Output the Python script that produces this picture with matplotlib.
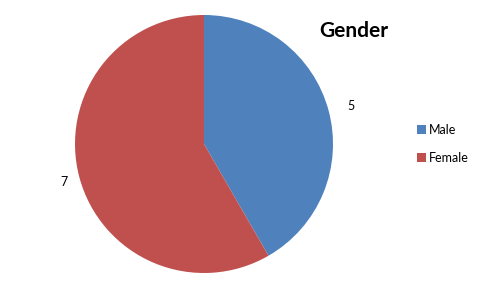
import matplotlib.pyplot as plt

labels = ["Male", "Female"]
counts = [5, 7]
colors = ["#4F81BD", "#C0504D"]

plt.rcParams["font.family"] = ["Lato", "DejaVu Sans"]

fig = plt.figure(figsize=(4.79, 2.89), dpi=100)
ax = fig.add_axes([0, 0, 1, 1])

wedges, texts = ax.pie(counts, labels=[str(c) for c in counts], colors=colors,
                       startangle=90, counterclock=False, center=(204, 145),
                       radius=129, labeldistance=1.15, frame=True,
                       textprops={"fontsize": 9})
ax.set_xlim(0, 479)
ax.set_ylim(0, 289)
ax.set_aspect("equal")
ax.axis("off")

fig.text(354 / 479, 1 - 31 / 289, "Gender", fontsize=15, fontweight="bold",
         ha="center", va="center")

leg = ax.legend(wedges, labels, loc="center left",
                bbox_to_anchor=(406 / 479, 1 - 144 / 289), frameon=False,
                handlelength=0.7, handleheight=0.7, handletextpad=0.2,
                labelspacing=1.3, fontsize=9)

fig.savefig("out.png", dpi=100)
